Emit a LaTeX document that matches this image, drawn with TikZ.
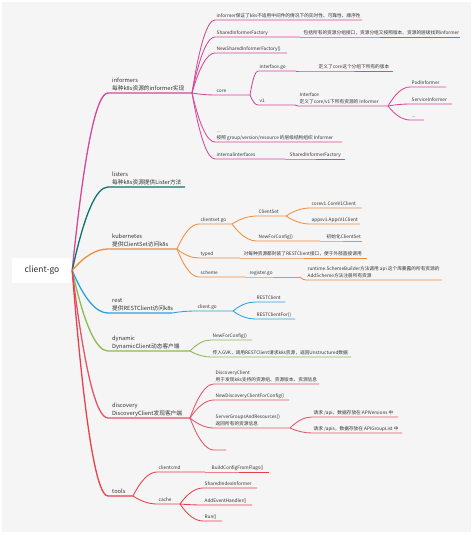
\documentclass[tikz,border=0pt]{standalone}
\usepackage{fontspec}
\setmainfont{Noto Sans CJK SC}
\usetikzlibrary{calc}
\definecolor{cInf}{RGB}{214,72,152}
\definecolor{cLis}{RGB}{22,112,112}
\definecolor{cKub}{RGB}{240,142,62}
\definecolor{cRes}{RGB}{42,162,226}
\definecolor{cDyn}{RGB}{142,186,82}
\definecolor{cDis}{RGB}{228,84,104}
\definecolor{cToo}{RGB}{232,64,76}
\definecolor{bgc}{RGB}{245,245,245}
\definecolor{txt}{RGB}{50,50,50}
\newcommand\twol[2]{\vbox{\hbox{#1}\hbox{#2}}}
\newcommand\mmnode[6]{%
  \coordinate (#1s) at (#2,#3);
  \coordinate (#1e) at (#4,#3);
  \node[#5] (#1) at ({#2+1.5},{#3-2.3}) {#6};}
\newcommand\mmcoord[4]{%
  \coordinate (#1s) at (#2,#3);
  \coordinate (#1e) at (#4,#3);}
\newcommand\mmlink[3]{%
  \draw[#1] let \p1=(#2), \p2=(#3s) in (\p1) .. controls ({\x1+0.333*(\x2-\x1)},{\y1+0.667*(\y2-\y1)}) and ({\x2-0.333*(\x2-\x1)},\y2) .. (\p2) -- (#3e);}
\tikzset{
  mainln/.style={line width=1.3pt},
  subln/.style={line width=0.85pt},
  mt/.style={inner sep=0pt, anchor=base west, xshift=2.5pt, text=txt, font=\fontsize{5.7}{8}\selectfont},
  st/.style={inner sep=0pt, anchor=base west, text=txt, font=\fontsize{4.7}{7}\selectfont},
}
\begin{document}
\begin{tikzpicture}[x=1pt,y=-1pt]
\useasboundingbox (0,0) rectangle (474,535);
\fill[white] (0,0) rectangle (474,535);
\fill[bgc] (2,2) rectangle (471,532);
\node[fill=white, minimum width=60pt, minimum height=25pt, inner sep=0pt, text=txt, font=\fontsize{8.5}{10}\selectfont] (root) at (42,270.5) {client-go};

% informers
\mmnode{I}{108}{93}{192}{mt}{\twol{informers}{每种k8s资源的informer实现}}
\mmnode{Ia}{215}{20}{362}{st}{informer保证了k8s不适用中间件的情况下的实时性、可靠性、顺序性}
\mmnode{Ib}{215}{37}{300}{st}{SharedInformerFactory}
\mmnode{Iba}{302}{37}{460}{st}{包括所有的资源分组接口，资源分组又按照版本、资源的层级找到informer}
\mmnode{Ic}{215}{53}{287}{st}{NewSharedInformerFactory()}
\mmnode{Id}{215}{95}{250}{st}{core}
\mmnode{Ida}{258}{71}{296}{st}{interface.go}
\mmnode{Idaa}{317}{71}{393}{st}{定义了core这个分组下所有的版本}
\mmnode{Idb}{258}{105}{295}{st}{v1}
\mmnode{Idba}{298}{106}{388}{st}{\twol{Interface}{定义了core/v1下所有资源的 Informer}}
\mmnode{Idbaa}{410}{87}{446}{st}{PodInformer}
\mmnode{Idbab}{410}{104}{452}{st}{ServiceInformer}
\mmnode{Idbac}{410}{120}{424}{st}{...}
\mmnode{Ig}{215}{142}{342}{st}{\twol{...}{按照 group/version/resource 的层级结构组织 Informer}}
\mmnode{If}{215}{159}{285}{st}{internalinterfaces}
\mmnode{Ifa}{288}{159}{345}{st}{SharedInformerFactory}

% listers
\mmnode{L}{108}{187}{185}{mt}{\twol{listers}{每种k8s资源提供Lister方法}}

% kubernetes
\mmnode{K}{108}{249}{177}{mt}{\twol{kubernetes}{提供ClientSet访问k8s}}
\mmnode{Ka}{199}{224}{232}{st}{clientset.go}
\mmnode{Kaa}{257}{216}{286}{st}{ClientSet}
\mmnode{Kaaa}{310}{208}{362}{st}{corev1.CoreV1Client}
\mmnode{Kaab}{310}{224}{360}{st}{appsv1.AppsV1Client}
\mmnode{Kab}{257}{241}{320}{st}{NewForConfig()}
\mmnode{Kaba}{325}{241}{362}{st}{初始化ClientSet}
\mmnode{Kb}{199}{258}{240}{st}{typed}
\mmnode{Kba}{242}{258}{367}{st}{对每种资源都封装了RESTClient接口，便于外部直接调用}
\mmnode{Kc}{199}{277}{245}{st}{scheme}
\mmnode{Kca}{248}{277}{300}{st}{register.go}
\mmnode{Kcaa}{306}{280}{442}{st}{\twol{runtime.SchemeBuilder方法调用 api 这个库暴露的所有资源的}{AddScheme方法注册所有资源}}

% rest
\mmnode{R}{108}{313}{172}{mt}{\twol{rest}{提供RESTClient访问k8s}}
\mmnode{Ra}{196}{311}{233}{st}{client.go}
\mmnode{Raa}{255}{302}{285}{st}{RESTClient}
\mmnode{Rab}{255}{319}{295}{st}{RESTClientFor()}

% dynamic
\mmnode{D}{108}{351}{190}{mt}{\twol{dynamic}{DynamicClient动态客户端}}
\mmnode{Da}{211}{340}{252}{st}{NewForConfig()}
\mmnode{Db}{211}{357}{351}{st}{传入GVK，调用RESTClient请求k8s资源，返回Unstructured数据}

% discovery
\mmnode{S}{108}{418}{190}{mt}{\twol{discovery}{DiscoveryClient发现客户端}}
\mmnode{Sa}{214}{384}{319}{st}{\twol{DiscoveryClient}{用于发现k8s支持的资源组、资源版本、资源信息}}
\mmnode{Sb}{214}{400}{289}{st}{NewDiscoveryClientForConfig()}
\mmnode{Sc}{214}{428}{290}{st}{\twol{ServerGroupsAndResources()}{返回所有的资源信息}}
\mmnode{Sca}{312}{417}{398}{st}{请求 /api，数据存放在 APIVersions 中}
\mmnode{Scb}{312}{433}{402}{st}{请求 /apis，数据存放在 APIGroupList 中}
\mmcoord{Sd}{214}{450}{226}

% tools
\mmnode{T}{108}{496}{133}{mt}{tools}
\mmnode{Ta}{157}{472}{205}{st}{clientcmd}
\mmnode{Taa}{210}{472}{269}{st}{BuildConfigFromFlags()}
\mmnode{Tb}{157}{504}{180}{st}{cache}
\mmnode{Tba}{203}{488}{257}{st}{SharedIndexInformer}
\mmnode{Tbb}{203}{505}{252}{st}{AddEventHandler()}
\mmnode{Tbc}{203}{521}{222}{st}{Run()}

% links
\mmlink{mainln,cInf}{root.east}{I}
\mmlink{mainln,cLis}{root.east}{L}
\mmlink{mainln,cKub}{root.east}{K}
\mmlink{mainln,cRes}{root.east}{R}
\mmlink{mainln,cDyn}{root.east}{D}
\mmlink{mainln,cDis}{root.east}{S}
\mmlink{mainln,cToo}{root.east}{T}

\foreach \c in {Ia,Ib,Ic,Id,Ig,If}{\mmlink{subln,cInf}{Ie}{\c}}
\mmlink{subln,cInf}{Ibe}{Iba}
\mmlink{subln,cInf}{Ide}{Ida}
\mmlink{subln,cInf}{Ide}{Idb}
\mmlink{subln,cInf}{Idae}{Idaa}
\mmlink{subln,cInf}{Idbe}{Idba}
\mmlink{subln,cInf}{Idbae}{Idbaa}
\mmlink{subln,cInf}{Idbae}{Idbab}
\mmlink{subln,cInf}{Idbae}{Idbac}
\mmlink{subln,cInf}{Ife}{Ifa}

\foreach \c in {Ka,Kb,Kc}{\mmlink{subln,cKub}{Ke}{\c}}
\mmlink{subln,cKub}{Kae}{Kaa}
\mmlink{subln,cKub}{Kae}{Kab}
\mmlink{subln,cKub}{Kaae}{Kaaa}
\mmlink{subln,cKub}{Kaae}{Kaab}
\mmlink{subln,cKub}{Kabe}{Kaba}
\mmlink{subln,cKub}{Kbe}{Kba}
\mmlink{subln,cKub}{Kce}{Kca}
\mmlink{subln,cKub}{Kcae}{Kcaa}

\mmlink{subln,cRes}{Re}{Ra}
\mmlink{subln,cRes}{Rae}{Raa}
\mmlink{subln,cRes}{Rae}{Rab}

\mmlink{subln,cDyn}{De}{Da}
\mmlink{subln,cDyn}{De}{Db}

\foreach \c in {Sa,Sb,Sc,Sd}{\mmlink{subln,cDis}{Se}{\c}}
\mmlink{subln,cDis}{Sce}{Sca}
\mmlink{subln,cDis}{Sce}{Scb}

\mmlink{subln,cToo}{Te}{Ta}
\mmlink{subln,cToo}{Te}{Tb}
\mmlink{subln,cToo}{Tae}{Taa}
\mmlink{subln,cToo}{Tbe}{Tba}
\mmlink{subln,cToo}{Tbe}{Tbb}
\mmlink{subln,cToo}{Tbe}{Tbc}
\end{tikzpicture}
\end{document}
